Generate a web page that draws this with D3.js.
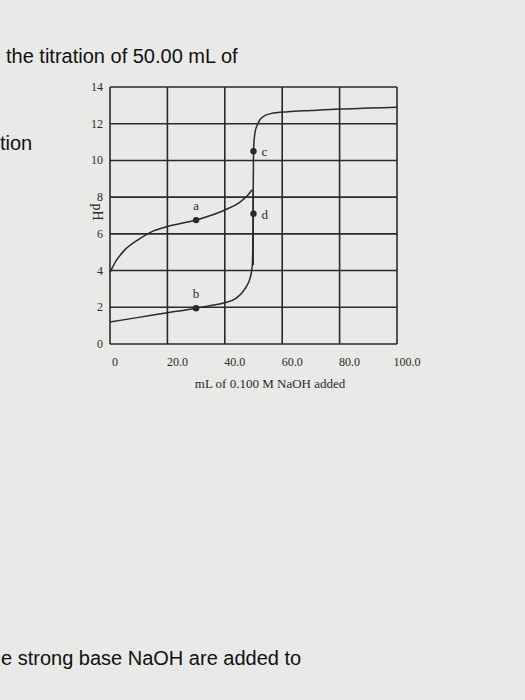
<!DOCTYPE html><html><head><script src="https://cdn.jsdelivr.net/npm/d3@7"></script>
<style>body{margin:0;background:#e9e9e7}</style></head><body><script>
const xTicks=[0,20,40,60,80,100], xLabels=["0","20.0","40.0","60.0","80.0","100.0"];
const yTicks=[0,2,4,6,8,10,12,14];
const weak=[[0,3.9],[2,4.5],[5,5.1],[10,5.7],[15,6.15],[20,6.4],[30,6.75],[35,7.0],[40,7.3],[45,7.7],[48,8.1],[49.5,8.4]];
const strong=[[0,1.2],[10,1.45],[20,1.7],[30,1.95],[35,2.1],[40,2.25],[44,2.5],[47,3.0],[49,3.7],[49.6,4.3],[49.8,6],[49.9,8.2]];
const excess=[[49.9,8.2],[50,10.5],[50.5,11.5],[51.5,12.0],[53,12.35],[56,12.55],[62,12.65],[70,12.72],[80,12.8],[90,12.85],[100,12.9]];
const points=[{n:"a",x:30,y:6.75},{n:"b",x:30,y:1.95},{n:"c",x:50,y:10.5},{n:"d",x:50,y:7.1}];
const W=525,H=700;
const svg=d3.select("body").append("svg").attr("width",W).attr("height",H);
const x=d3.scaleLinear().domain([0,100]).range([110,397]);
const y=d3.scaleLinear().domain([0,14]).range([344,87]);
const ink="#2a2a2a";
svg.append("g").selectAll("line").data(xTicks).join("line").attr("x1",d=>x(d)).attr("x2",d=>x(d)).attr("y1",y(0)).attr("y2",y(14)).attr("stroke",ink).attr("stroke-width",1.6);
svg.append("g").selectAll("line").data(yTicks).join("line").attr("y1",d=>y(d)).attr("y2",d=>y(d)).attr("x1",x(0)).attr("x2",x(100)).attr("stroke",ink).attr("stroke-width",1.6);
const serif="'Liberation Serif',serif";
svg.append("g").selectAll("text").data(yTicks).join("text").attr("x",103).attr("y",d=>y(d)+4).attr("text-anchor","end").attr("font-family",serif).attr("font-size",12).attr("fill",ink).text(d=>d);
svg.append("g").selectAll("text").data(xTicks).join("text").attr("x",d=>x(d)+(d?10:5)).attr("y",366).attr("text-anchor","middle").attr("font-family",serif).attr("font-size",12).attr("fill",ink).text((d,i)=>xLabels[i]);
svg.append("text").attr("x",270).attr("y",388).attr("text-anchor","middle").attr("font-family",serif).attr("font-size",13).attr("fill",ink).text("mL of 0.100 M NaOH added");
svg.append("text").attr("transform","translate(93,212) rotate(90)").attr("text-anchor","middle").attr("font-family",serif).attr("font-size",14).attr("fill",ink).text("pH");
const line=d3.line().x(d=>x(d[0])).y(d=>y(d[1])).curve(d3.curveMonotoneX);
[weak,strong,excess].forEach(s=>svg.append("path").attr("d",line(s)).attr("fill","none").attr("stroke",ink).attr("stroke-width",1.5));
svg.append("line").attr("x1",x(49.9)).attr("x2",x(49.9)).attr("y1",y(4.3)).attr("y2",y(8.4)).attr("stroke",ink).attr("stroke-width",1.5);
svg.selectAll("circle").data(points).join("circle").attr("cx",d=>x(d.x)).attr("cy",d=>y(d.y)).attr("r",3.2).attr("fill",ink);
svg.selectAll(".pl").data(points).join("text").attr("font-family",serif).attr("font-size",13).attr("fill",ink)
 .attr("x",d=>d.n=="a"||d.n=="b"?x(d.x):x(d.x)+8).attr("y",d=>d.n=="a"||d.n=="b"?y(d.y)-10:y(d.y)+5)
 .attr("text-anchor",d=>d.n=="a"||d.n=="b"?"middle":"start").text(d=>d.n);
const sans="'Liberation Sans',Arial,sans-serif";
svg.append("text").attr("x",6).attr("y",63).attr("font-family",sans).attr("font-size",20).attr("fill","#111").text("the titration of 50.00 mL of");
svg.append("text").attr("x",0).attr("y",150).attr("font-family",sans).attr("font-size",20).attr("fill","#111").text("tion");
svg.append("text").attr("x",1).attr("y",665).attr("font-family",sans).attr("font-size",20).attr("fill","#111").text("e strong base NaOH are added to");
</script></body></html>
